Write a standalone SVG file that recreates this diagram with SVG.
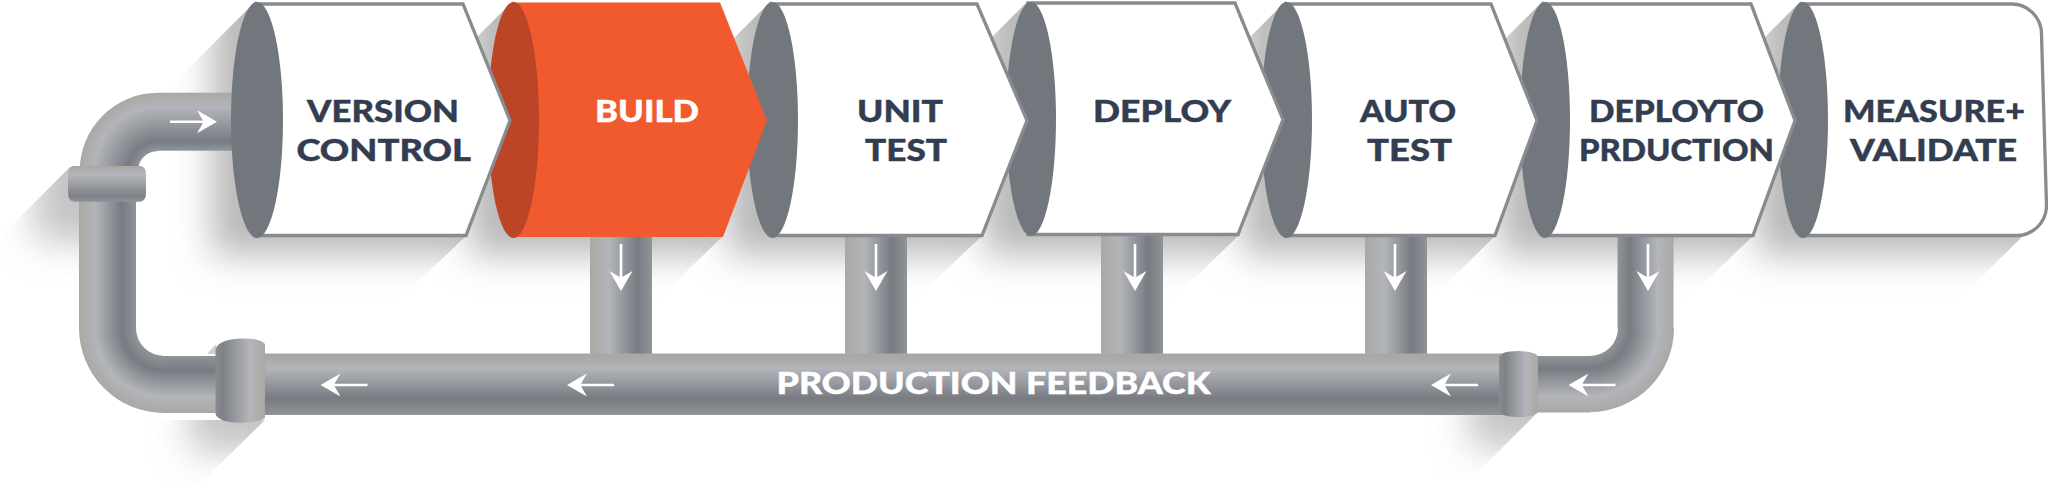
<svg xmlns="http://www.w3.org/2000/svg" xmlns:xlink="http://www.w3.org/1999/xlink" width="2048" height="486" viewBox="0 0 2048 486">
<style>
.lbl{font-family:"Lato","Liberation Sans",sans-serif;font-weight:900;font-size:30.500px;fill:#333d50;stroke:#333d50;stroke-width:.4}
.w{fill:#fff;stroke:#fff}
.body{fill:#fff;stroke:#878c91;stroke-width:3.3;stroke-linejoin:miter}
.cap{fill:#72777e}
.shd{fill:#b8b8b8;filter:url(#blur)}
.shl{fill:#c4c4c4;filter:url(#blur)}
.arr{fill:#fff}
</style>
<defs>
<filter id="blur" x="-40%" y="-40%" width="180%" height="180%"><feGaussianBlur stdDeviation="18"/></filter>
<linearGradient id="hMain" x1="0" y1="0" x2="0" y2="1"><stop offset="0" stop-color="#a9a8a4"/><stop offset=".08" stop-color="#aaa9a6"/><stop offset=".24" stop-color="#b3b5ba"/><stop offset=".73" stop-color="#787c82"/><stop offset="1" stop-color="#8f9499"/></linearGradient>
<linearGradient id="vDrop" x1="0" y1="0" x2="1" y2="0"><stop offset="0" stop-color="#a9a8a4"/><stop offset=".3" stop-color="#b3b5ba"/><stop offset=".76" stop-color="#787c82"/><stop offset="1" stop-color="#8f9499"/></linearGradient>
<linearGradient id="vLeft" x1="0" y1="0" x2="1" y2="0"><stop offset="0" stop-color="#a9a8a4"/><stop offset=".28" stop-color="#b3b5ba"/><stop offset=".75" stop-color="#787c82"/><stop offset="1" stop-color="#8f9499"/></linearGradient>
<linearGradient id="vDropR" x1="1" y1="0" x2="0" y2="0"><stop offset="0" stop-color="#a9a8a4"/><stop offset=".28" stop-color="#b3b5ba"/><stop offset=".78" stop-color="#787c82"/><stop offset="1" stop-color="#8f9499"/></linearGradient>
<linearGradient id="hIn" x1="0" y1="0" x2="0" y2="1"><stop offset="0" stop-color="#8f9499"/><stop offset=".25" stop-color="#787c82"/><stop offset=".72" stop-color="#b3b5ba"/><stop offset="1" stop-color="#a9a8a4"/></linearGradient>
<linearGradient id="hInR" x1="0" y1="0" x2="0" y2="1"><stop offset="0" stop-color="#8f9499"/><stop offset=".22" stop-color="#787c82"/><stop offset=".72" stop-color="#b3b5ba"/><stop offset="1" stop-color="#a9a8a4"/></linearGradient>
<linearGradient id="hOut" x1="0" y1="0" x2="0" y2="1"><stop offset="0" stop-color="#a9a8a4"/><stop offset=".25" stop-color="#b3b5ba"/><stop offset=".84" stop-color="#787c82"/><stop offset="1" stop-color="#8f9499"/></linearGradient>
<linearGradient id="flange" x1="0" y1="0" x2="1" y2="0"><stop offset="0" stop-color="#888c91"/><stop offset=".15" stop-color="#7e8288"/><stop offset=".7" stop-color="#b4b5ba"/><stop offset="1" stop-color="#a9a8a4"/></linearGradient>
<linearGradient id="flangeT" x1="0" y1="0" x2="0" y2="1"><stop offset="0" stop-color="#a9a8a4"/><stop offset=".25" stop-color="#b3b5ba"/><stop offset=".85" stop-color="#7d8187"/><stop offset="1" stop-color="#8f9499"/></linearGradient>
<radialGradient id="e1" gradientUnits="userSpaceOnUse" cx="158" cy="171" r="78.300"><stop offset=".26" stop-color="#8f9499"/><stop offset=".38" stop-color="#787c82"/><stop offset=".815" stop-color="#b3b5ba"/><stop offset="1" stop-color="#a9a8a4"/></radialGradient>
<radialGradient id="e2" gradientUnits="userSpaceOnUse" cx="164" cy="328" r="85"><stop offset=".33" stop-color="#8f9499"/><stop offset=".5" stop-color="#787c82"/><stop offset=".81" stop-color="#b3b5ba"/><stop offset="1" stop-color="#a9a8a4"/></radialGradient>
<radialGradient id="e3" gradientUnits="userSpaceOnUse" cx="1590" cy="328" r="84"><stop offset=".33" stop-color="#8f9499"/><stop offset=".48" stop-color="#787c82"/><stop offset=".81" stop-color="#b3b5ba"/><stop offset="1" stop-color="#a9a8a4"/></radialGradient>
<path id="a" class="arr" d="M0 0L-20-11.500-14-1.300H-47V1.300H-14L-20 11.500Z"/>
<clipPath id="c1"><path d="M256 1L170 87V300H399L466 236Z"/></clipPath>
<clipPath id="c2"><path d="M513 1L427 87V300H657L723 236Z"/></clipPath>
<clipPath id="c3"><path d="M771 1L685 87V300H914L982 236Z"/></clipPath>
<clipPath id="c4"><path d="M1028 1L942 87V300H1172L1238 236Z"/></clipPath>
<clipPath id="c5"><path d="M1286 1L1200 87V300H1430L1495 236Z"/></clipPath>
<clipPath id="c6"><path d="M1543 1L1457 87V300H1686L1753 236Z"/></clipPath>
<clipPath id="c7"><path d="M1801 1L1715 87V300H1958L2023 236Z"/></clipPath>
<clipPath id="c8"><path d="M70 167L4 233V290H130V167Z"/></clipPath>
<clipPath id="c9"><path d="M265 420L200 484H130V420Z"/></clipPath>
<clipPath id="c10"><path d="M1535 415L1470 480H1410V415Z"/></clipPath>
</defs>

<g id="shadows">
<g clip-path="url(#c1)"><rect class="shd" x="212" y="-60" width="320" height="315"/></g>
<g clip-path="url(#c2)"><rect class="shd" x="469" y="-60" width="320" height="315"/></g>
<g clip-path="url(#c3)"><rect class="shd" x="727" y="-60" width="320" height="315"/></g>
<g clip-path="url(#c4)"><rect class="shd" x="984" y="-60" width="320" height="315"/></g>
<g clip-path="url(#c5)"><rect class="shd" x="1242" y="-60" width="320" height="315"/></g>
<g clip-path="url(#c6)"><rect class="shd" x="1499" y="-60" width="320" height="315"/></g>
<g clip-path="url(#c7)"><rect class="shd" x="1757" y="-60" width="320" height="315"/></g>
<g clip-path="url(#c8)"><rect class="shl" x="35" y="120" width="120" height="122"/></g>
<g clip-path="url(#c9)"><rect class="shl" x="190" y="360" width="120" height="92"/></g>
<g clip-path="url(#c10)"><rect class="shl" x="1470" y="360" width="120" height="88"/></g>
<path d="M216 344L207 354H217Z" fill="#cfcfcf"/>
</g>

<g id="connectors">
<rect x="590" y="230" width="62" height="130" fill="url(#vDrop)"/>
<rect x="845" y="230" width="62" height="130" fill="url(#vDrop)"/>
<rect x="1101" y="230" width="62" height="130" fill="url(#vDrop)"/>
<rect x="1365" y="230" width="62" height="130" fill="url(#vDrop)"/>
<rect x="1617.500" y="230" width="56" height="98.500" fill="url(#vDropR)"/>
<path d="M1590 356A28 28 0 0 0 1618 328H1674A84 84 0 0 1 1590 412Z" fill="url(#e3)"/>
<rect x="1530" y="356" width="60.500" height="56.500" fill="url(#hInR)"/>
<rect x="79" y="168" width="57" height="160.500" fill="url(#vLeft)"/>
<path d="M158 92.700A78.300 78.300 0 0 0 79.700 171H138A20 20 0 0 1 158 151Z" fill="url(#e1)"/>
<rect x="157.500" y="92.700" width="80" height="58" fill="url(#hOut)"/>
<path d="M79 328A85 85 0 0 0 164 413V356A28 28 0 0 1 136 328Z" fill="url(#e2)"/>
<rect x="163.500" y="356" width="60" height="57" fill="url(#hIn)"/>
<rect x="255" y="353.500" width="1250" height="61.500" fill="url(#hMain)"/>
<path d="M73 166H141Q146 167 146 175V193Q146 201 140 201.700H74Q68 201 68 193V175Q68 167 73 166Z" fill="url(#flangeT)"/>
<path d="M215.500 350Q217 340 240 338.500Q260 338 265 344V418Q258 423 240 422.700Q218 422 215.500 414Z" fill="url(#flange)"/>
<path d="M1499 358Q1500 351 1518 351Q1536 351 1538 357V412Q1536 417 1518 417Q1500 417 1499 410Z" fill="url(#flange)"/>
<use xlink:href="#a" href="#a" transform="translate(217 121.700)"/>
<use xlink:href="#a" href="#a" transform="translate(320.500 385) rotate(180)"/>
<use xlink:href="#a" href="#a" transform="translate(567 385) rotate(180)"/>
<use xlink:href="#a" href="#a" transform="translate(1431 385) rotate(180)"/>
<use xlink:href="#a" href="#a" transform="translate(1568.500 385) rotate(180)"/>
<use xlink:href="#a" href="#a" transform="translate(621 291) rotate(90)"/>
<use xlink:href="#a" href="#a" transform="translate(876 291) rotate(90)"/>
<use xlink:href="#a" href="#a" transform="translate(1135 291) rotate(90)"/>
<use xlink:href="#a" href="#a" transform="translate(1395 291) rotate(90)"/>
<use xlink:href="#a" href="#a" transform="translate(1648 291) rotate(90)"/>
<text class="lbl w" x="776.500" y="394" textLength="434" lengthAdjust="spacingAndGlyphs">PRODUCTION FEEDBACK</text>
</g>

<g id="node-measure">
<path class="body" d="M1801 4H2011A30 30 0 0 1 2041.500 34L2046.500 206A30 30 0 0 1 2016 235.500H1801Z"/>
<ellipse class="cap" cx="1803" cy="120" rx="25" ry="118"/>
<text class="lbl" x="1843" y="122" textLength="182" lengthAdjust="spacingAndGlyphs">MEASURE+</text>
<text class="lbl" x="1850" y="161" textLength="167" lengthAdjust="spacingAndGlyphs">VALIDATE</text>
</g>
<g id="node-deploy-production">
<path class="body" d="M1543 4H1751L1795 120.500 1753 235.500H1543Z"/>
<ellipse class="cap" cx="1545" cy="120" rx="25" ry="118"/>
<text class="lbl" x="1589" y="122" textLength="175" lengthAdjust="spacingAndGlyphs" style="word-spacing:-7px">DEPLOY TO</text>
<text class="lbl" x="1579" y="161" textLength="195" lengthAdjust="spacingAndGlyphs">PRDUCTION</text>
</g>
<g id="node-auto-test">
<path class="body" d="M1286 4H1491L1537 120.500 1495 235.500H1286Z"/>
<ellipse class="cap" cx="1286.500" cy="120" rx="25.500" ry="118"/>
<text class="lbl" x="1360" y="122" textLength="96" lengthAdjust="spacingAndGlyphs">AUTO</text>
<text class="lbl" x="1367" y="161" textLength="85" lengthAdjust="spacingAndGlyphs">TEST</text>
</g>
<g id="node-deploy">
<path class="body" d="M1028 3H1235L1283 119.500 1238 234.500H1028Z"/>
<ellipse class="cap" cx="1031" cy="119" rx="25" ry="117"/>
<text class="lbl" x="1093" y="122" textLength="138" lengthAdjust="spacingAndGlyphs">DEPLOY</text>
</g>
<g id="node-unit-test">
<path class="body" d="M771 4H977L1027 120.500 982 235.500H771Z"/>
<ellipse class="cap" cx="772.500" cy="120" rx="25.500" ry="118"/>
<text class="lbl" x="857" y="122" textLength="86" lengthAdjust="spacingAndGlyphs">UNIT</text>
<text class="lbl" x="865" y="161" textLength="82" lengthAdjust="spacingAndGlyphs">TEST</text>
</g>
<g id="node-build">
<path d="M513 2.500H720L767 120.500 723 237H513Z" fill="#f15a2e"/>
<ellipse cx="513.500" cy="120" rx="25.500" ry="118" fill="#bc4527"/>
<text class="lbl w" x="595" y="122" textLength="104" lengthAdjust="spacingAndGlyphs">BUILD</text>
</g>
<g id="node-version-control">
<path class="body" d="M256 4H463L510 120.500 466 235.500H256Z"/>
<ellipse class="cap" cx="257" cy="120" rx="26" ry="118"/>
<text class="lbl" x="307" y="122" textLength="152" lengthAdjust="spacingAndGlyphs">VERSION</text>
<text class="lbl" x="296.500" y="161" textLength="174.500" lengthAdjust="spacingAndGlyphs">CONTROL</text>
</g>
</svg>
